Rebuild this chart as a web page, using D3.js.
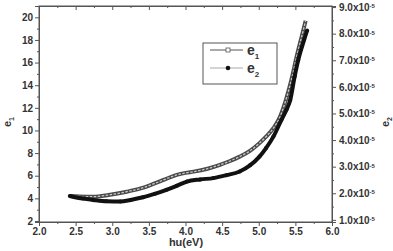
<!DOCTYPE html>
<html>
<head>
<meta charset="utf-8">
<script src="https://cdn.jsdelivr.net/npm/d3@7"></script>
<style>
  body { margin: 0; background: #fff; }
  svg { display: block; font-family: "Liberation Sans", Arial, sans-serif; }
  .tick text { fill: #333; font-size: 10px; }
  .domain, .tick line { stroke: #555; }
</style>
</head>
<body>
<div id="chart"></div>
<script>
/* data */
var e1Energy = [2.42, 2.55, 2.74, 2.95, 3.20, 3.40, 3.56, 3.72, 3.88, 4.00, 4.11, 4.30, 4.47, 4.60, 4.74, 4.88, 5.01, 5.10, 5.20, 5.29, 5.38, 5.45, 5.52, 5.59, 5.64];
var e1Values = [4.21, 4.17, 4.15, 4.30, 4.59, 4.90, 5.27, 5.68, 6.07, 6.25, 6.36, 6.62, 6.96, 7.28, 7.69, 8.20, 8.88, 9.45, 10.2, 11.2, 12.9, 14.6, 16.6, 18.4, 19.7];

var e2Energy = [2.42, 2.60, 2.74, 2.92, 3.11, 3.25, 3.42, 3.58, 3.74, 3.88, 4.02, 4.20, 4.38, 4.56, 4.74, 4.88, 5.01, 5.10, 5.20, 5.31, 5.38, 5.43, 5.49, 5.54, 5.62, 5.66];
var e2Values = [1.90e-5, 1.80e-5, 1.75e-5, 1.70e-5, 1.69e-5, 1.75e-5, 1.85e-5, 1.98e-5, 2.13e-5, 2.28e-5, 2.44e-5, 2.52e-5, 2.57e-5, 2.68e-5, 2.82e-5, 3.05e-5, 3.38e-5, 3.70e-5, 4.13e-5, 4.76e-5, 5.15e-5, 5.51e-5, 6.39e-5, 7.02e-5, 7.77e-5, 8.12e-5];

var xTicks = [2.0, 2.5, 3.0, 3.5, 4.0, 4.5, 5.0, 5.5, 6.0];
var y1Ticks = [2, 4, 6, 8, 10, 12, 14, 16, 18, 20];
var y2Ticks = [1e-5, 2e-5, 3e-5, 4e-5, 5e-5, 6e-5, 7e-5, 8e-5, 9e-5];

var W = 393, H = 251;
var mLeft = 39, mRight = 332, mTop = 6, mBottom = 222;

var svg = d3.select('#chart').append('svg').attr('width', W).attr('height', H);

var x = d3.scaleLinear().domain([2, 6]).range([mLeft, mRight]);
var y1 = d3.scaleLinear().domain([1.91, 21.0]).range([mBottom, mTop]);
var y2 = d3.scaleLinear().domain([0.92e-5, 9.04e-5]).range([mBottom, mTop]);

// halfway values between majors
function minors(ticks) {
	var out = [];
	for (var i = 0; i < ticks.length - 1; i++) out.push((ticks[i] + ticks[i + 1]) / 2);
	return out;
}

// minor ticks first
svg.append('g').attr('transform', 'translate(0,' + mBottom + ')')
	.call(d3.axisBottom(x).tickValues(minors(xTicks)).tickSize(2).tickFormat(''));
svg.append('g').attr('transform', 'translate(0,' + mTop + ')')
	.call(d3.axisBottom(x).tickValues(minors(xTicks)).tickSize(2).tickFormat(''));
svg.append('g').attr('transform', 'translate(' + mLeft + ',0)')
	.call(d3.axisLeft(y1).tickValues(minors(y1Ticks)).tickSize(2).tickFormat(''));
svg.append('g').attr('transform', 'translate(' + mRight + ',0)')
	.call(d3.axisRight(y2).tickValues(minors(y2Ticks)).tickSize(2).tickFormat(''));

// major axes
svg.append('g').attr('transform', 'translate(0,' + mBottom + ')')
	.call(d3.axisBottom(x).tickValues(xTicks).tickSize(4).tickPadding(2).tickFormat(d3.format('.1f')));
svg.append('g').attr('transform', 'translate(0,' + mTop + ')')
	.call(d3.axisBottom(x).tickValues(xTicks).tickSize(4).tickFormat(''));
svg.append('g').attr('transform', 'translate(' + mLeft + ',0)')
	.call(d3.axisLeft(y1).tickValues(y1Ticks).tickSize(4).tickPadding(2).tickFormat(d3.format('d')));

var rAxis = svg.append('g').attr('transform', 'translate(' + mRight + ',0)')
	.call(d3.axisRight(y2).tickValues(y2Ticks).tickSize(4).tickFormat(''));
rAxis.selectAll('.tick text').remove();
rAxis.selectAll('.tick').append('text')
	.attr('x', 7).attr('dy', '0.32em')
	.style('text-anchor', 'start')
	.each(function(d) {
		var t = d3.select(this);
		t.append('tspan').text((d * 1e5).toFixed(1) + 'x10');
		t.append('tspan').attr('dy', '-0.45em').style('font-size', '6px').text('-5');
	});

svg.selectAll('.domain').attr('stroke', '#555');
svg.selectAll('.tick text').style('font-weight', 'bold').attr('fill', '#333');

// axis titles
svg.append('text').attr('x', 186).attr('y', 246).attr('text-anchor', 'middle')
	.style('font-size', '11px').style('font-weight', 'bold').attr('fill', '#333').text('hu(eV)');

var t1 = svg.append('text').attr('transform', 'translate(11,122) rotate(-90)')
	.attr('text-anchor', 'middle').style('font-size', '11px').style('font-weight', 'bold').attr('fill', '#333');
t1.append('tspan').text('e');
t1.append('tspan').attr('dy', '3').style('font-size', '7px').text('1');

var t2 = svg.append('text').attr('transform', 'translate(389,122) rotate(-90)')
	.attr('text-anchor', 'middle').style('font-size', '11px').style('font-weight', 'bold').attr('fill', '#333');
t2.append('tspan').text('e');
t2.append('tspan').attr('dy', '3').style('font-size', '7px').text('2');

// curves
var e1Data = e1Energy.map(function(d, i) { return [d, e1Values[i]]; });
var e2Data = e2Energy.map(function(d, i) { return [d, e2Values[i]]; });

var line1 = d3.line().x(function(d) { return x(d[0]); }).y(function(d) { return y1(d[1]); }).curve(d3.curveMonotoneX);
var line2 = d3.line().x(function(d) { return x(d[0]); }).y(function(d) { return y2(d[1]); }).curve(d3.curveMonotoneX);

// e1: open squares so dense they read as a grey band
svg.append('path').datum(e1Data).attr('d', line1)
	.attr('fill', 'none').attr('stroke', '#4a4a4a').attr('stroke-width', 4);
svg.append('path').datum(e1Data).attr('d', line1)
	.attr('fill', 'none').attr('stroke', '#c8c8c8').attr('stroke-width', 1.3)
	.attr('stroke-dasharray', '2.5,1.5');

// e2: filled circles, solid black band
svg.append('path').datum(e2Data).attr('d', line2)
	.attr('fill', 'none').attr('stroke', '#111').attr('stroke-width', 4);
svg.selectAll('.dot').data(e2Data).enter().append('circle')
	.attr('class', 'dot')
	.attr('cx', function(d) { return x(d[0]); })
	.attr('cy', function(d) { return y2(d[1]); })
	.attr('r', 2).attr('fill', '#111');

// frame
svg.append('rect').attr('x', mLeft).attr('y', mTop).attr('width', mRight - mLeft).attr('height', mBottom - mTop)
	.attr('fill', 'none').attr('stroke', '#555').attr('stroke-width', 1);

// legend
var lg = svg.append('g');
lg.append('rect').attr('x', 203).attr('y', 43).attr('width', 74).attr('height', 41)
	.attr('fill', '#fff').attr('stroke', '#555').attr('stroke-width', 1);
lg.append('line').attr('x1', 210).attr('x2', 243).attr('y1', 50).attr('y2', 50).attr('stroke', '#555');
lg.append('rect').attr('x', 226).attr('y', 48).attr('width', 4).attr('height', 4)
	.attr('fill', '#fff').attr('stroke', '#555').attr('stroke-width', 0.8);
lg.append('line').attr('x1', 210).attr('x2', 243).attr('y1', 68).attr('y2', 68).attr('stroke', '#aaa');
lg.append('circle').attr('cx', 228).attr('cy', 68).attr('r', 2.3).attr('fill', '#111');

var l1 = lg.append('text').attr('x', 247).attr('y', 55).attr('fill', '#333')
	.style('font-size', '14px').style('font-weight', 'bold');
l1.append('tspan').text('e');
l1.append('tspan').attr('dy', 4).style('font-size', '8px').text('1');
var l2 = lg.append('text').attr('x', 247).attr('y', 73).attr('fill', '#333')
	.style('font-size', '14px').style('font-weight', 'bold');
l2.append('tspan').text('e');
l2.append('tspan').attr('dy', 4).style('font-size', '8px').text('2');
</script>
</body>
</html>
